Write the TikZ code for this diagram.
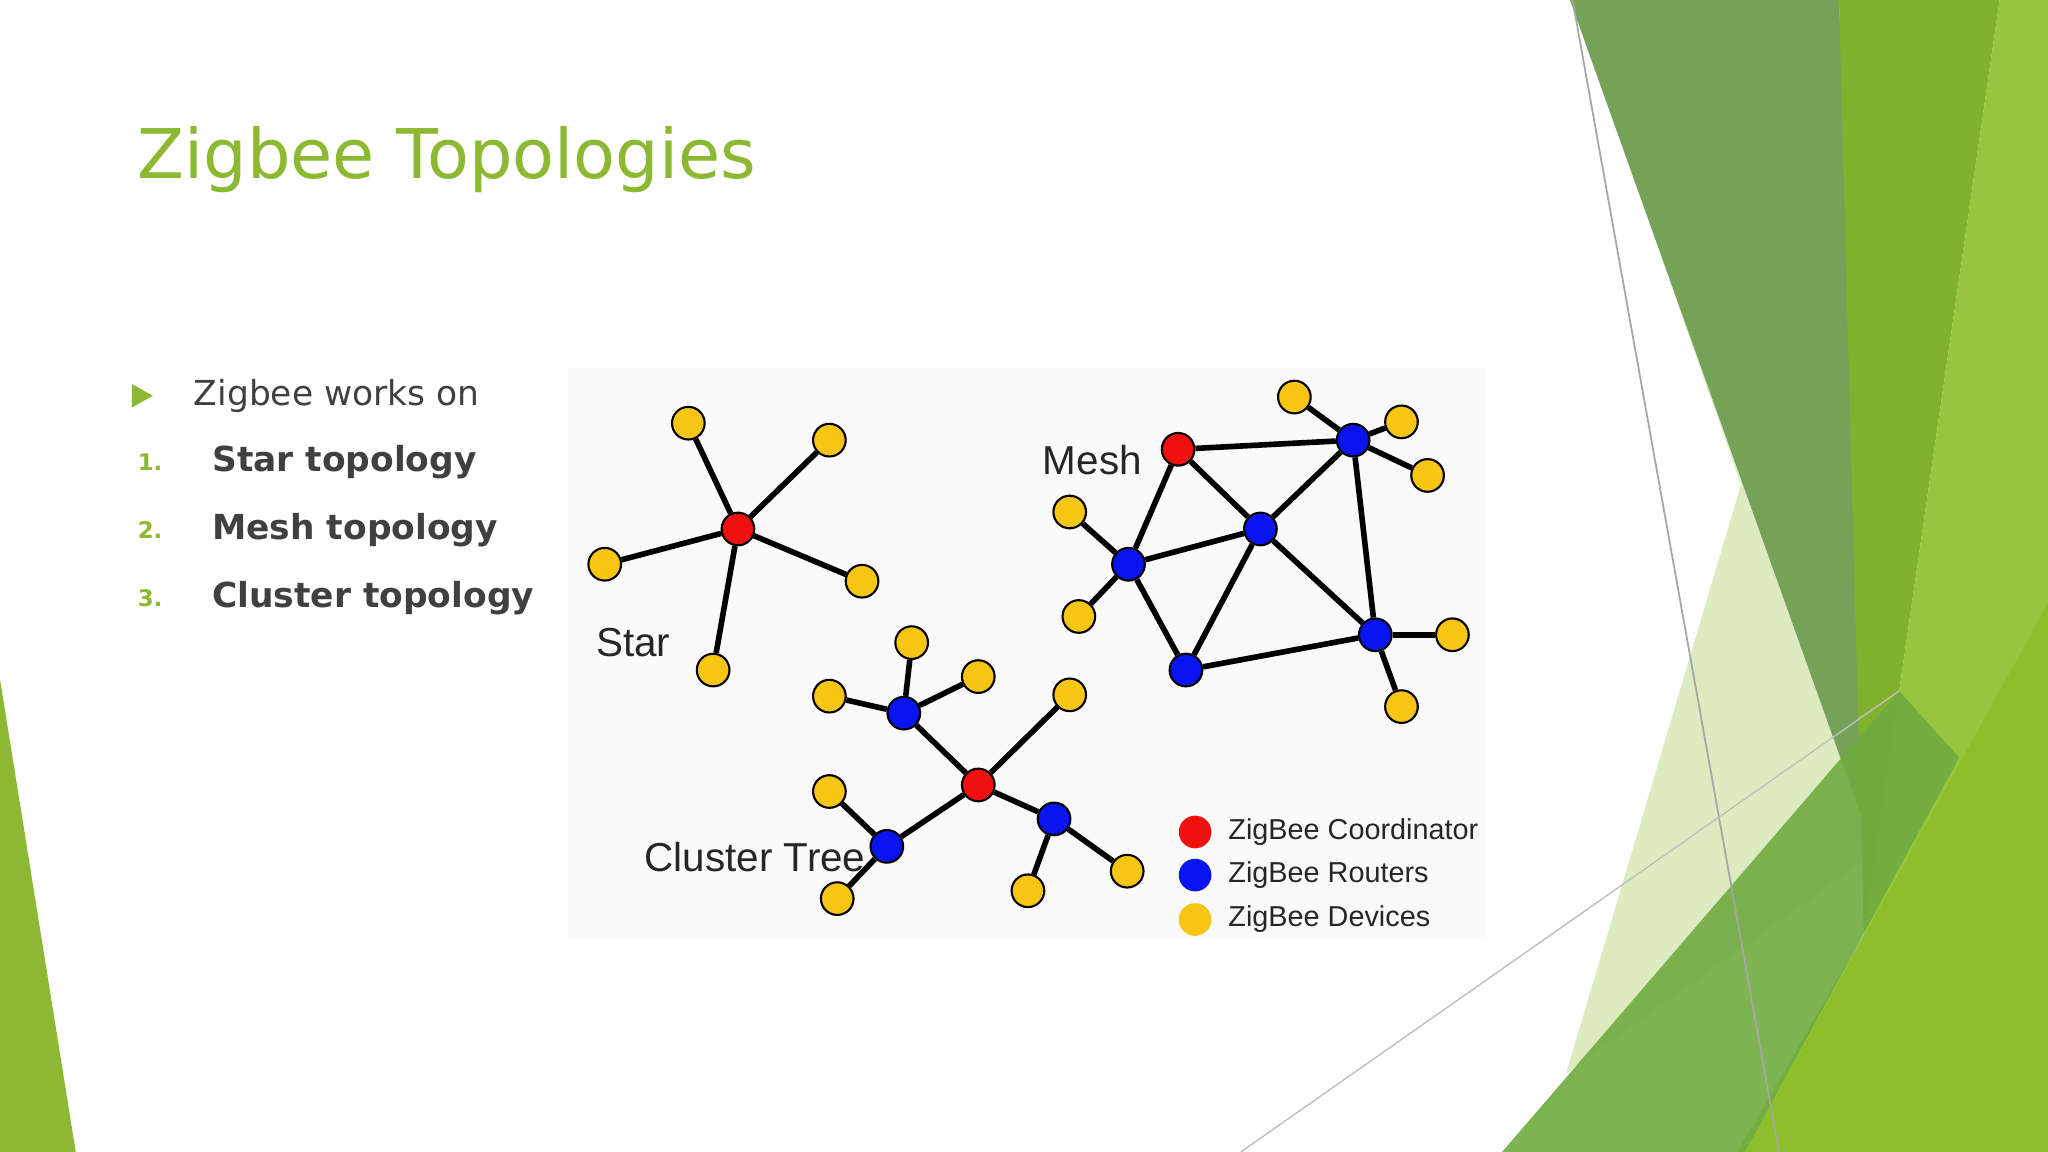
\documentclass[tikz,border=0pt]{standalone}
\usepackage{fontspec}
\setmainfont{DejaVu Sans}
\newfontfamily\arialfont{Liberation Sans}
\usetikzlibrary{positioning}
\definecolor{zgreen}{HTML}{8DB832}
\definecolor{zred}{HTML}{F01010}
\definecolor{zblue}{HTML}{0A14F0}
\definecolor{zyellow}{HTML}{F7C514}
\tikzset{
  coord/.style={circle,draw=black,line width=0.6pt,fill=zred,minimum size=25*0.013061cm,inner sep=0pt},
  router/.style={coord,fill=zblue},
  device/.style={coord,fill=zyellow},
  link/.style={line width=1.6pt,black},
  lbl/.style={font=\arialfont\fontsize{11.5}{13}\selectfont,anchor=west,text=black!85},
  leg/.style={font=\arialfont\fontsize{8.2}{10}\selectfont,anchor=west,text=black!85},
  item/.style={font=\bfseries\fontsize{9.8}{12}\selectfont,anchor=west,text=black!75},
}
\begin{document}
\begin{tikzpicture}[x=0.013061cm,y=-0.013061cm]
    \useasboundingbox (0,0) rectangle (1568,882);
    % Background shapes
    \fill[white] (0,0) rectangle (1568,882);
    \fill[zgreen] (0,520) -- (0,882) -- (58,882) -- cycle;
    \fill[color={rgb,255:red,220;green,235;blue,192}] (1272,197) -- (1435,653) -- (1199,822) -- (1333,371) -- cycle;
    \fill[color={rgb,255:red,95;green,145;blue,60},opacity=0.85] (1202,0) -- (1408,0) -- (1435,653) -- cycle;
    \fill[color={rgb,255:red,128;green,178;blue,46}] (1408,0) -- (1531,0) -- (1427,715) -- cycle;
    \fill[color={rgb,255:red,151;green,198;blue,62}] (1531,0) -- (1568,0) -- (1568,882) -- (1330,882) -- (1427,715) -- cycle;
    \fill[color={rgb,255:red,112;green,171;blue,64},opacity=0.9] (1150,882) -- (1454,529) -- (1500,580) -- (1336,882) -- cycle;
    \fill[color={rgb,255:red,141;green,190;blue,44}] (1336,882) -- (1568,462) -- (1568,882) -- cycle;
    \draw[gray!70,line width=0.5pt] (1204,0) -- (1362,882);
    \draw[gray!50,line width=0.4pt] (950,882) -- (1454,529);
    % Title and list
    \node[anchor=west,text=zgreen,font=\fontsize{19.5}{22}\selectfont] (title) at (96,122) {Zigbee Topologies};
    \fill[zgreen] (101,294) -- (117,303) -- (101,312) -- cycle;
    \node[anchor=west,text=black!75,font=\fontsize{9.8}{12}\selectfont] (intro) at (139,303) {Zigbee works on};
    \foreach \n/\t/\y in {1/Star topology/354,2/Mesh topology/406,3/Cluster topology/458}{
      \node[anchor=west,text=zgreen,font=\bfseries\fontsize{6.5}{8}\selectfont] (num\n) at (96,\y) {\n.};
      \node[item] (item\n) at (153,\y) {\t};
    }
    % Diagram panel
    \fill[black!2] (435,282) rectangle (1138,718);
    % Star
    \node[coord] (s0) at (565,405) {};
    \foreach \i/\x/\y in {1/527/324,2/635/337,3/463/432,4/660/445,5/546/513}{
      \node[device] (s\i) at (\x,\y) {};
      \draw[link] (s0) -- (s\i);
    }
    \node[lbl] (star) at (447,492) {Star};
    % Mesh
    \node[coord] (m0) at (902,344) {};
    \node[router] (ma) at (1036,337) {};
    \node[router] (mb) at (965,405) {};
    \node[router] (mc) at (864,432) {};
    \node[router] (md) at (908,513) {};
    \node[router] (me) at (1053,486) {};
    \node[device] (m1) at (991,304) {};
    \node[device] (m2) at (1073,323) {};
    \node[device] (m3) at (1093,364) {};
    \node[device] (m4) at (819,392) {};
    \node[device] (m5) at (826,472) {};
    \node[device] (m6) at (1112,486) {};
    \node[device] (m7) at (1073,541) {};
    \foreach \a/\b in {m0/ma,m0/mb,m0/mc,ma/mb,ma/me,mb/mc,mb/md,mb/me,mc/md,md/me,ma/m1,ma/m2,ma/m3,mc/m4,mc/m5,me/m6,me/m7}
      \draw[link] (\a) -- (\b);
    \node[lbl] (mesh) at (789,352) {Mesh};
    % Cluster tree
    \node[coord] (c0) at (749,601) {};
    \node[router] (ca) at (692,546) {};
    \node[router] (cb) at (679,648) {};
    \node[router] (cc) at (807,627) {};
    \node[device] (c1) at (698,492) {};
    \node[device] (c2) at (749,518) {};
    \node[device] (c3) at (635,533) {};
    \node[device] (c4) at (819,532) {};
    \node[device] (c5) at (635,606) {};
    \node[device] (c6) at (641,688) {};
    \node[device] (c7) at (787,682) {};
    \node[device] (c8) at (863,667) {};
    \foreach \a/\b in {c0/ca,c0/cb,c0/cc,c0/c4,ca/c1,ca/c2,ca/c3,cb/c5,cb/c6,cc/c7,cc/c8}
      \draw[link] (\a) -- (\b);
    \node[lbl] (cluster) at (484,656) {Cluster Tree};
    % Legend
    \node[coord,draw=none] (lc) at (915,637) {};
    \node[router,draw=none] (lr) at (915,670) {};
    \node[device,draw=none] (ld) at (915,704) {};
    \node[leg,right=1pt of lc] {ZigBee Coordinator};
    \node[leg,right=1pt of lr] {ZigBee Routers};
    \node[leg,right=1pt of ld] {ZigBee Devices};
\end{tikzpicture}
\end{document}
